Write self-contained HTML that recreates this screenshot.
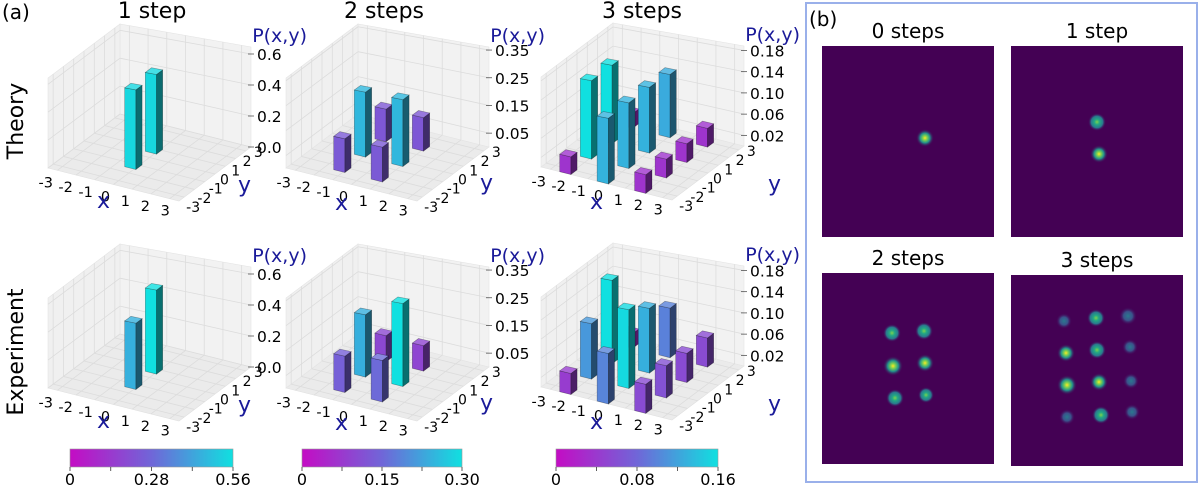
<!DOCTYPE html>
<html><head><meta charset="utf-8">
<style>
body{margin:0;background:#fff;}
svg{display:block;font-family:"DejaVu Sans","Liberation Sans",sans-serif;}
</style></head>
<body>
<svg id="fig" width="1200" height="489" viewBox="0 0 1200 489" xmlns="http://www.w3.org/2000/svg">
<defs>
<linearGradient id="cmap" x1="0" x2="1" y1="0" y2="0">
<stop offset="0" stop-color="#c40cc4"/><stop offset="0.5" stop-color="#7066d8"/><stop offset="1" stop-color="#10e0e0"/>
</linearGradient>
<radialGradient id="spotHi"><stop offset="0" stop-color="#fde725"/><stop offset="0.25" stop-color="#7ad151"/><stop offset="0.55" stop-color="#21918c"/><stop offset="1" stop-color="#440154" stop-opacity="0"/></radialGradient>
<radialGradient id="spotMid"><stop offset="0" stop-color="#7ad151"/><stop offset="0.3" stop-color="#22a884"/><stop offset="0.65" stop-color="#2a788e"/><stop offset="1" stop-color="#440154" stop-opacity="0"/></radialGradient>
<radialGradient id="spotLo"><stop offset="0" stop-color="#2a788e"/><stop offset="0.5" stop-color="#3b528b"/><stop offset="1" stop-color="#440154" stop-opacity="0"/></radialGradient>
</defs>
<text x="2" y="19" font-size="20">(a)</text>
<text x="152" y="18" font-size="22" text-anchor="middle">1 step</text>
<text x="384" y="18" font-size="22" text-anchor="middle">2 steps</text>
<text x="642" y="18" font-size="22" text-anchor="middle">3 steps</text>
<text transform="translate(23,121) rotate(-90)" font-size="22" text-anchor="middle">Theory</text>
<text transform="translate(23,352) rotate(-90)" font-size="22" text-anchor="middle">Experiment</text>
<g id="plots"></g>
<g id="cbars"></g>
<g id="panelb"></g>
</svg>
<script>
// ---- data ----
const xs1=[0,0];
const ys1=[-1,1];
const theory1=[0.54,0.54];
const exp1=[0.45,0.57];
const xs2=[-1,-1,-1,1,1,1];
const ys2=[-2,0,2,-2,0,2];
const theory2=[0.13,0.25,0.125,0.13,0.25,0.125];
const exp2=[0.14,0.24,0.10,0.155,0.31,0.095];
const xs3=[-2,-2,-2,-2,0,0,0,0,2,2,2,2];
const ys3=[-3,-1,1,3,-3,-1,1,3,-3,-1,1,3];
const theory3=[0.036,0.16,0.16,0.03,0.13,0.13,0.13,0.125,0.036,0.036,0.036,0.036];
const exp3=[0.043,0.113,0.17,0.03,0.10,0.156,0.128,0.098,0.056,0.062,0.056,0.056];
const zTicks1=[0,0.2,0.4,0.6];
const zTickLabels1=["0.0","0.2","0.4","0.6"];
const zTicks2=[0.05,0.15,0.25,0.35];
const zTickLabels2=["0.05","0.15","0.25","0.35"];
const zTicks3=[0.02,0.06,0.10,0.14,0.18];
const zTickLabels3=["0.02","0.06","0.10","0.14","0.18"];
const axisTicks=[-3,-2,-1,0,1,2,3];
const cbMax=[0.56,0.30,0.16];
const cbLabels=[["0","0.28","0.56"],["0","0.15","0.30"],["0","0.08","0.16"]];

const NS="http://www.w3.org/2000/svg";
const NAVY="#1a1a99";
function mk(tag,attrs,parent){const e=document.createElementNS(NS,tag);for(const k in attrs)e.setAttribute(k,attrs[k]);parent.appendChild(e);return e;}
function hex(c){return [parseInt(c.substr(1,2),16),parseInt(c.substr(3,2),16),parseInt(c.substr(5,2),16)];}
const stops=[hex("#c40cc4"),hex("#7066d8"),hex("#10e0e0")];
function cmap(t){t=Math.max(0,Math.min(1,t));let a,b,f;if(t<0.5){a=stops[0];b=stops[1];f=t/0.5;}else{a=stops[1];b=stops[2];f=(t-0.5)/0.5;}return [0,1,2].map(i=>a[i]+(b[i]-a[i])*f);}
function rgb(c,k,w){return "rgb("+c.map(v=>Math.round(Math.min(255,v*k+(255-v*k)*(w||0)))).join(",")+")";}

const X=[131,33],Y=[72,-54],HPX=100;
const panels=[
 {o:[48,168],ppu:155,zt:zTicks1,zl:zTickLabels1,xs:xs1,ys:ys1,th:theory1,ex:exp1,max:cbMax[0],xl:[49,40],yl:[190,24]},
 {o:[286,168],ppu:277,zt:zTicks2,zl:zTickLabels2,xs:xs2,ys:ys2,th:theory2,ex:exp2,max:cbMax[1],xl:[49,42],yl:[194,22]},
 {o:[541,167],ppu:531,zt:zTicks3,zl:zTickLabels3,xs:xs3,ys:ys3,th:theory3,ex:exp3,max:cbMax[2],xl:[49,42],yl:[227,24]}
];
const plots=document.getElementById('plots');
function drawPanel(p,vals,dy,row,col){
 const O=[p.o[0],p.o[1]+dy];
 const g=mk('g',{},plots);
 
 
 function pr(x,y,z){const a=(x+3.5)/7,b=(y+3.5)/7;const s=0.9+0.1*a;return [O[0]+a*X[0]+b*Y[0],O[1]+a*X[1]+b*Y[1]-z*p.ppu*s];}
 function poly(pts,fill,stroke,parent,name){const e=mk('polygon',{points:pts.map(q=>q[0].toFixed(1)+','+q[1].toFixed(1)).join(' '),fill:fill,stroke:stroke||'none','stroke-width':0.6},parent);if(name){}return e;}
 const zTop=HPX/p.ppu;
 poly([pr(-3.5,-3.5,0),pr(3.5,-3.5,0),pr(3.5,3.5,0),pr(-3.5,3.5,0)],'#ebebeb','#e0e0e0',g,'floor-pane');
 poly([pr(-3.5,3.5,0),pr(3.5,3.5,0),pr(3.5,3.5,zTop),pr(-3.5,3.5,zTop)],'#f2f2f2','#e4e4e4',g,'back-pane');
 poly([pr(-3.5,-3.5,0),pr(-3.5,3.5,0),pr(-3.5,3.5,zTop),pr(-3.5,-3.5,zTop)],'#f0f0f0','#e4e4e4',g,'left-pane');
 const gg=mk('g',{stroke:'#dcdcdc','stroke-width':0.8},g);
 
 
 function ln(a,b){mk('line',{x1:a[0],y1:a[1],x2:b[0],y2:b[1]},gg);}
 axisTicks.forEach(t=>{ln(pr(t,-3.5,0),pr(t,3.5,0));ln(pr(-3.5,t,0),pr(3.5,t,0));ln(pr(t,3.5,0),pr(t,3.5,zTop));ln(pr(-3.5,t,0),pr(-3.5,t,zTop));});
 p.zt.forEach(z=>{ln(pr(-3.5,3.5,z),pr(3.5,3.5,z));ln(pr(-3.5,-3.5,z),pr(-3.5,3.5,z));});
 p.zt.forEach((z,i)=>{const q=pr(3.5,3.5,z);mk('line',{x1:q[0]-3,y1:q[1],x2:q[0]+3,y2:q[1],stroke:'#555','stroke-width':0.8},g);
  const t=mk('text',{x:q[0]+6,y:q[1]+6,'font-size':15.5},g);t.textContent=p.zl[i];
  });
 const zt=mk('text',{x:pr(3.5,3.5,zTop)[0]+56,y:O[1]-126,'font-size':19,'text-anchor':'end',fill:NAVY},g);zt.textContent='P(x,y)';
 
 axisTicks.forEach(t=>{const q=pr(t,-3.5,0);const e=mk('text',{x:q[0]-8+t*1.2,y:q[1]+17,'font-size':14.5,'text-anchor':'middle'},g);e.textContent=String(t);
  });
 axisTicks.forEach(t=>{const q=pr(3.5,t,0);const f=(t+3)/6;const e=mk('text',{x:q[0]+2+f*6,y:q[1]+15-f*9,'font-size':14},g);e.textContent=String(t);
  });
 const xl=mk('text',{x:O[0]+p.xl[0],y:O[1]+p.xl[1],'font-size':22,fill:NAVY},g);xl.textContent='x';
 
 const yl=mk('text',{x:O[0]+p.yl[0],y:O[1]+p.yl[1],'font-size':22,fill:NAVY},g);yl.textContent='y';
 
 const idx=vals.map((v,i)=>i).sort((a,b)=>(p.ys[b]-p.xs[b])-(p.ys[a]-p.xs[a]));
 idx.forEach(i=>{const x=p.xs[i],y=p.ys[i],h=vals[i];const c=cmap(h/p.max);
  const bg=mk('g',{},g);
  
  
  const x0=x-0.5,x1=x+0.1,y0=y-0.5,y1=y+0.1;
  poly([pr(x0,y0,0),pr(x1,y0,0),pr(x1,y0,h),pr(x0,y0,h)],rgb(c,1),'rgba(0,0,0,0.35)',bg);
  poly([pr(x1,y0,0),pr(x1,y1,0),pr(x1,y1,h),pr(x1,y0,h)],rgb(c,0.5),'rgba(0,0,0,0.35)',bg);
  poly([pr(x0,y0,h),pr(x1,y0,h),pr(x1,y1,h),pr(x0,y1,h)],rgb(c,1,0.2),'rgba(0,0,0,0.35)',bg);
 });
}
panels.forEach((p,i)=>{drawPanel(p,p.th,0,'theory',i);drawPanel(p,p.ex,220,'experiment',i);});

const cbx=[70,302,556],cbw=[163,160,162];
const cbg=document.getElementById('cbars');
cbx.forEach((x,i)=>{
 const g=mk('g',{},cbg);
 
 
 mk('rect',{x:x,y:449,width:cbw[i],height:18,fill:'url(#cmap)',stroke:'#999','stroke-width':0.6},g);
 [0,0.25,0.5,0.75,1].forEach(f=>mk('line',{x1:x+f*cbw[i],y1:467,x2:x+f*cbw[i],y2:471,stroke:'#333','stroke-width':0.8},g));
 cbLabels[i].forEach((l,j)=>{const t=mk('text',{x:x+j*0.5*cbw[i],y:485,'font-size':16,'text-anchor':'middle'},g);t.textContent=l;
  });
});

const pb=document.getElementById('panelb');
mk('rect',{x:806,y:3,width:391,height:479,fill:'none',stroke:'#9ab0ea','stroke-width':2},pb);
const lb=mk('text',{x:809,y:26,'font-size':20},pb);lb.textContent='(b)';

const imgs=[
 {x:822,y:46,t:'0 steps',spots:[[925,138,'Hi',9]]},
 {x:1011,y:46,t:'1 step',spots:[[1097,122,'Mid',9],[1099,154,'Hi',9]]},
 {x:822,y:273,t:'2 steps',spots:[[892,333,'Mid',9],[924,331,'Mid',9],[893,366,'Hi',10],[925,363,'Hi',9],[895,398,'Mid',9],[926,395,'Mid',8]]},
 {x:1011,y:275,t:'3 steps',spots:[[1064,321,'Lo',8],[1096,318,'Mid',9],[1128,316,'Lo',9],[1066,353,'Hi',9],[1097,350,'Mid',9],[1130,347,'Lo',8],[1067,385,'Hi',10],[1099,382,'Hi',9],[1131,381,'Lo',8],[1067,417,'Lo',8],[1101,415,'Mid',9],[1132,412,'Lo',8]]}
];
imgs.forEach(im=>{
 const g=mk('g',{},pb);
 
 
 const t=mk('text',{x:im.x+86,y:im.y-8,'font-size':20,'text-anchor':'middle'},g);t.textContent=im.t;
 mk('rect',{x:im.x,y:im.y,width:172,height:191,fill:'#440154'},g);
 im.spots.forEach(s=>mk('circle',{cx:s[0],cy:s[1],r:s[3],fill:'url(#spot'+s[2]+')'},g));
});
</script>
</body></html>
